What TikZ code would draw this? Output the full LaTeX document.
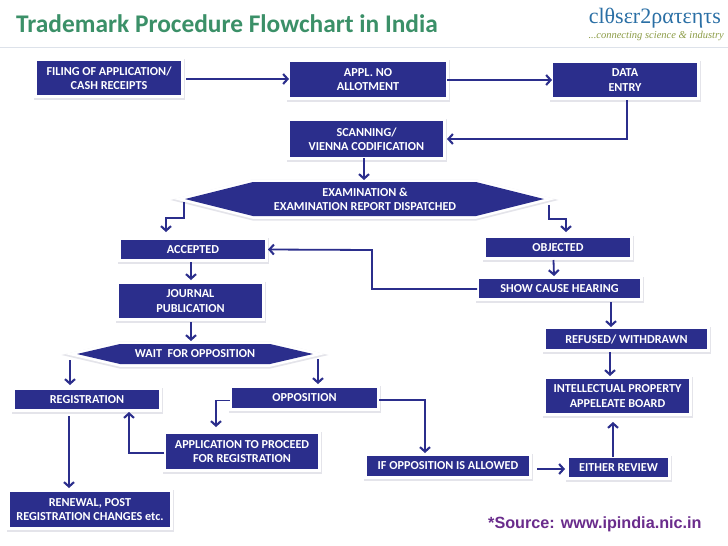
\documentclass[tikz,border=0pt]{standalone}
\usepackage{fontspec}
\setmainfont{Carlito}
\newfontfamily\logofont{Liberation Serif}
\newfontfamily\tagfont{Liberation Serif}
\newfontfamily\srcfont{Liberation Sans}
\usetikzlibrary{arrows.meta,calc}
\definecolor{navy}{HTML}{2B2E8C}
\definecolor{titlegreen}{HTML}{3B9068}
\definecolor{shadowgray}{HTML}{E4E4EA}
\definecolor{rulegray}{HTML}{DDE2EA}
\definecolor{logoblue}{HTML}{2A6FA5}
\definecolor{tagolive}{HTML}{8C9C46}
\definecolor{srcpurple}{HTML}{6A2C8C}
\tikzset{
  framed/.style={
    preaction={draw=shadowgray,line width=7pt,transform canvas={yshift=-1pt}},
    preaction={draw=white,line width=5.5pt},
    fill=navy},
  navybox/.style={framed,inner sep=0pt,outer sep=0pt,align=center,text=white,
    font=\fontsize{12.2}{14.3}\selectfont\bfseries},
  boxtext/.style={inner sep=0pt,outer sep=0pt,align=center,text=white,
    font=\fontsize{12.2}{14.3}\selectfont\bfseries},
  conn/.style={draw=navy,line width=1.8pt,-{Straight Barb[length=4.5pt,width=10pt,line width=2.1pt]}},
}
% name, x1, y1, x2, y2, text
\newcommand{\bx}[6]{%
  \pgfmathsetmacro{\bw}{#4-#2}\pgfmathsetmacro{\bh}{#5-#3}%
  \node[navybox,minimum width=\bw pt,minimum height=\bh pt] (#1) at ({(#2+#4)/2},{(#3+#5)/2}) {#6};}
\begin{document}
\begin{tikzpicture}[x=1pt,y=-1pt]
\useasboundingbox (0,0) rectangle (728,546);
\fill[white] (0,0) rectangle (728,546);
% header
\node[inner sep=0pt,anchor=west,text=titlegreen,font=\fontsize{25.4}{28}\selectfont\bfseries] (title) at (16,24) {Trademark Procedure Flowchart in India};
\coordinate (ruleL) at (0,47); \coordinate (ruleR) at (728,47);
\draw[rulegray,line width=0.8pt] (ruleL) -- (ruleR);
\node[inner sep=0pt,anchor=east,text=logoblue,font=\fontsize{22}{24}\logofont] (logo) at (721,18) {clθsεr2ρατεητs};
\node[inner sep=0pt,anchor=east,text=tagolive,font=\fontsize{10.5}{12}\tagfont\itshape] (tag) at (724,36) {...connecting science \& industry};
\node[inner sep=0pt,anchor=west,text=srcpurple,font=\fontsize{16.2}{18}\srcfont\bfseries] (src) at (488,524) {*Source: www.ipindia.nic.in};
% boxes
\bx{filing}{37}{61}{181}{95}{FILING OF APPLICATION/\\CASH RECEIPTS}
\bx{appl}{290}{62}{446}{97}{APPL. NO\\ALLOTMENT}
\bx{dataentry}{553}{63}{697}{97}{DATA\\ENTRY}
\bx{scanning}{290}{121}{443}{157}{SCANNING/\\VIENNA CODIFICATION}
\bx{accepted}{121}{240}{265}{259}{ACCEPTED}
\bx{journal}{119}{284}{262}{318}{JOURNAL\\PUBLICATION}
\bx{objected}{486}{238}{630}{257}{OBJECTED}
\bx{showcause}{479}{279}{640}{298}{SHOW CAUSE HEARING}
\bx{refused}{546}{329}{707}{349}{REFUSED/ WITHDRAWN}
\bx{ipab}{546}{379}{689}{413}{INTELLECTUAL PROPERTY\\APPELEATE BOARD}
\bx{either}{569}{458}{668}{477}{EITHER REVIEW}
\bx{ifopp}{367}{456}{529}{476}{IF OPPOSITION IS ALLOWED}
\bx{registration}{15}{390}{159}{409}{REGISTRATION}
\bx{opposition}{232}{388}{377}{408}{OPPOSITION}
\bx{proceed}{166}{434}{318}{469}{APPLICATION TO PROCEED\\FOR REGISTRATION}
\bx{renewal}{10}{492}{170}{527}{RENEWAL, POST\\REGISTRATION CHANGES etc.}
% hexagons
\coordinate (exL) at (185,199); \coordinate (exR) at (544,199); \coordinate (exT) at (364,182);
\path[framed] (exL) -- (253,182) -- (476,182) -- (exR) -- (476,216) -- (253,216) -- cycle;
\node[boxtext] (exam) at (365,199) {EXAMINATION \&\\EXAMINATION REPORT DISPATCHED};
\coordinate (waL) at (77,354); \coordinate (waR) at (313,354); \coordinate (waT) at (191,344);
\path[framed] (waL) -- (120,344) -- (270,344) -- (waR) -- (270,364) -- (120,364) -- cycle;
\node[boxtext] (wait) at (195,354) {WAIT\ \ FOR OPPOSITION};
% connectors
\draw[conn] ([shift={(5,1)}]filing.east) -- ([shift={(-1,-0.5)}]appl.west);
\draw[conn] ([shift={(1,0.5)}]appl.east) -- ([shift={(-1,0)}]dataentry.west);
\draw[conn] ([shift={(2,3)}]dataentry.south) -- ++(0,39) -- ([shift={(4,0)}]scanning.east);
\draw[conn] ([shift={(-2.5,1)}]scanning.south) -- ([shift={(0,-2)}]exT);
\draw[conn] ([shift={(-1,3)}]exL) -- ++(0,16) -- ++(-18,0) -- ([shift={(-27,-8)}]accepted.north);
\draw[conn] ([shift={(5,6)}]exR) -- ++(0,14) -- ++(17,0) -- ([shift={(8,-6)}]objected.north);
\draw[conn] ([shift={(-2,3)}]accepted.south) -- ([shift={(0.5,-4)}]journal.north);
\draw[conn] ([shift={(0.5,4)}]journal.south) -- ([shift={(0,-3)}]waT);
\draw[conn] ([shift={(-7,6)}]waL) -- ([shift={(-17,-5)}]registration.north);
\draw[conn] ([shift={(5,5)}]waR) -- ([shift={(13.5,-4)}]opposition.north);
\draw[conn] ([shift={(-18,7)}]registration.south) -- ([shift={(-21,-4)}]renewal.north);
\draw[conn] ([shift={(-2,2.5)}]opposition.west) -- ++(-14,0) -- ([shift={(-26,-7)}]proceed.north);
\draw[conn] ([shift={(-2,1.5)}]proceed.west) -- ++(-35,0) -- ([shift={(42,3)}]registration.south);
\draw[conn] ([shift={(2,2)}]opposition.east) -- ++(46,0) -- ([shift={(-23,-3)}]ifopp.north);
\draw[conn] ([shift={(8,3)}]ifopp.east) -- ([shift={(-4,1.5)}]either.west);
\draw[conn] ([shift={(-5.5,-1)}]either.north) -- ([shift={(-4.5,9)}]ipab.south);
\draw[conn] ([shift={(-16.5,3)}]refused.south) -- ([shift={(-7.5,-3)}]ipab.north);
\draw[conn] ([shift={(51.5,4)}]showcause.south) -- ([shift={(-15.5,-2)}]refused.north);
\draw[conn] ([shift={(-4.5,3)}]objected.south) -- ([shift={(-5.5,-3)}]showcause.north);
\draw[conn] ([shift={(-2,0.5)}]showcause.west) -- ++(-105,0) -- ++(0,-39) -- ([shift={(3,0)}]accepted.east);
\end{tikzpicture}
\end{document}
